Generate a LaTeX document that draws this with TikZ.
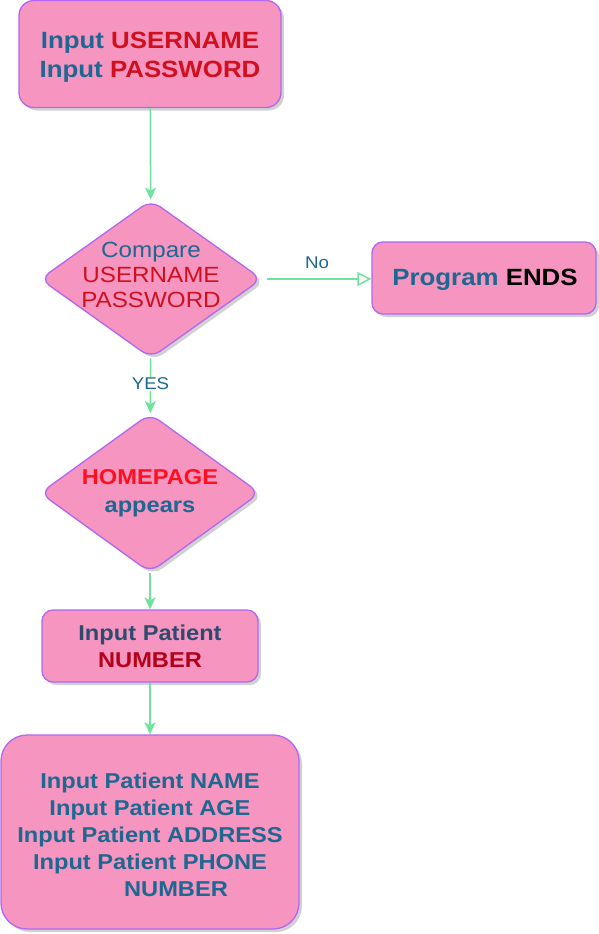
\documentclass[tikz,border=0pt]{standalone}
\usepackage{fontspec}
\setmainfont{Liberation Sans}[FakeStretch=1.1]
\usetikzlibrary{shapes.geometric,arrows.meta,shadows}
\definecolor{pinkfill}{HTML}{F595C0}
\definecolor{purp}{HTML}{B366F0}
\definecolor{grn}{HTML}{6EE39C}
\definecolor{tblue}{HTML}{1E6790}
\definecolor{tnavy}{HTML}{2E4B6E}
\definecolor{tred}{HTML}{D0101E}
\definecolor{tdred}{HTML}{B5001A}
\definecolor{bred}{HTML}{FF1020}
\begin{document}
\begin{tikzpicture}[x=1pt,y=-1pt,
  shad/.style={drop shadow={shadow xshift=3pt,shadow yshift=-3pt,fill=black!40,opacity=0.45}},
  box/.style={draw=purp, line width=1.3pt, fill=pinkfill, rounded corners=#1, inner sep=0pt, shad},
  dia/.style={diamond, draw=purp, line width=1.3pt, fill=pinkfill, rounded corners=11pt, inner sep=0pt, aspect=1.4, shad},
  txt/.style={align=center, inner sep=0pt},
  conn/.style={draw=grn, line width=1.5pt, -{Stealth[length=12pt,width=11pt,inset=3pt]}},
  lbl/.style={fill=white, inner sep=1pt, text=tblue, font=\fontsize{17}{20}\selectfont}
]
\useasboundingbox (0,0) rectangle (598,934);

\node[box=15pt, minimum width=262pt, minimum height=107pt] (b1) at (150,54) {};
\node[txt, font=\bfseries\fontsize{23.5}{29}\selectfont] (t1) at (150,57) {\textcolor{tblue}{Input} \textcolor{tred}{USERNAME}\\\textcolor{tblue}{Input} \textcolor{tred}{PASSWORD}};

\node[dia, minimum width=222pt, minimum height=158pt] (d1) at (151,279) {};
\node[txt, font=\fontsize{22}{25}\selectfont] (t2) at (151,275) {\textcolor{tblue}{Compare}\\\textcolor{tred}{USERNAME}\\\textcolor{tred}{PASSWORD}};

\node[box=11pt, minimum width=224pt, minimum height=72pt] (end) at (484,278) {};
\node[txt, font=\bfseries\fontsize{23.5}{27}\selectfont] (t3) at (485,280) {\textcolor{tblue}{Program} ENDS};

\node[dia, minimum width=220pt, minimum height=159pt] (d2) at (150,493) {};
\node[txt, font=\bfseries\fontsize{21.5}{28}\selectfont] (t4) at (d2) {\textcolor{bred}{HOMEPAGE}\\\textcolor{tblue}{appears}};

\node[box=11pt, minimum width=216pt, minimum height=72pt] (b3) at (150,646) {};
\node[txt, font=\bfseries\fontsize{21.5}{27}\selectfont] (t5) at (b3) {\textcolor{tnavy}{Input Patient}\\\textcolor{tdred}{NUMBER}};

\node[box=26pt, minimum width=298pt, minimum height=194pt] (b4) at (150,832) {};
\node[txt, text=tblue, font=\bfseries\fontsize{21.5}{27}\selectfont] (t6) at (150,835) {Input Patient NAME\\Input Patient AGE\\Input Patient ADDRESS\\Input Patient PHONE\\\hspace*{52pt}NUMBER};

\draw[conn] (b1) -- (d1);
\draw[draw=grn, line width=1.5pt, shorten <=4pt, -{Triangle[open,fill=white,length=14pt,width=14pt]}] (d1.east) -- node[lbl, pos=0.5, above=9pt, fill=none] (no) {No} (end.west |- d1.east);
\draw[conn] (d1) -- node[lbl, pos=0.47] (yes) {YES} (d2);
\draw[conn] (d2) -- (b3);
\draw[conn] (b3) -- (b4);
\end{tikzpicture}
\end{document}
